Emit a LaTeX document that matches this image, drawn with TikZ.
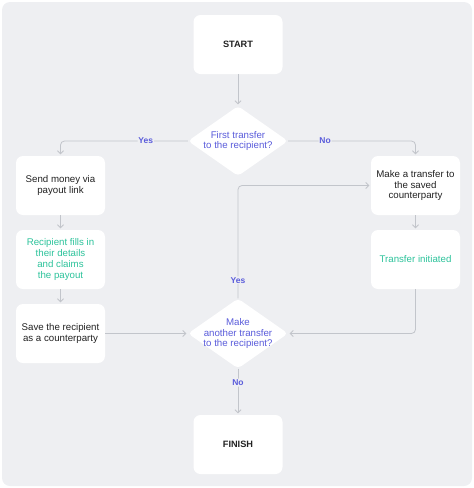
\documentclass[tikz,border=0pt]{standalone}
\usepackage{fontspec}
\setmainfont{Liberation Sans}
\usepackage{tikz}
\usetikzlibrary{arrows.meta, positioning, shapes.geometric}

\definecolor{panel}{HTML}{EEEFF2}
\definecolor{wire}{HTML}{C2C5CB}
\definecolor{ask}{HTML}{5A5CDB}
\definecolor{done}{HTML}{2CC39B}
\definecolor{ink}{HTML}{222222}

\begin{document}
\begin{tikzpicture}[x=1pt, y=-1pt,
    box/.style={fill=white, rounded corners=7pt, minimum width=89pt, minimum height=59pt,
        align=center, text=ink, font=\fontsize{9.7}{10.9}\selectfont, inner sep=2pt},
    ask/.style={diamond, fill=white, rounded corners=4pt, minimum width=100pt, minimum height=70pt,
        inner sep=0pt},
    asktext/.style={align=center, text=ask, font=\fontsize{9.7}{10.9}\selectfont},
    flow/.style={draw=wire, line width=0.8pt, rounded corners=4pt,
        -{Straight Barb[length=3pt, width=6pt]}, shorten >=1.5pt},
    tag/.style={fill=panel, text=ask, font=\fontsize{8.5}{9}\selectfont\bfseries, inner sep=1pt}]
    \useasboundingbox (0,0) rectangle (474,488);
    % grey panel behind everything
    \fill[panel] (2,2) [rounded corners=8pt] rectangle (472,486);

    % middle column
    \node[box, font=\fontsize{9.2}{10}\selectfont\bfseries] (start) at (238,44.5) {START};
    \node[ask, label={[asktext]center:First transfer\\to the recipient?}] (q1) at (238,141) {};
    \node[ask, label={[asktext]center:Make\\another transfer\\to the recipient?}] (q2) at (238,333.5) {};
    \node[box, font=\fontsize{9.2}{10}\selectfont\bfseries] (finish) at (238,444.5) {FINISH};

    % left column: new recipient
    \node[box] (send) at (60.5,185.5) {Send money via\\payout link};
    \node[box, text=done] (fills) at (60.5,259.5) {Recipient fills in\\their details\\and claims\\the payout};
    \node[box] (save) at (60.5,333.5) {Save the recipient\\as a counterparty};

    % right column: saved counterparty
    \node[box] (make) at (415.5,185.5) {Make a transfer to\\the saved\\counterparty};
    \node[box, text=done] (init) at (415.5,259.5) {Transfer initiated};

    % connectors
    \draw[flow] (start) -- (q1);
    \draw[flow] (q1.west) -| node[tag, pos=0.165] {Yes} (send.north);
    \draw[flow] (q1.east) -| node[tag, pos=0.145] {No} (make.north);
    \draw[flow] (send) -- (fills);
    \draw[flow] (fills) -- (save);
    \draw[flow] (make) -- (init);
    \draw[flow] (save) -- (q2.west);
    \draw[flow] (init.south) |- (q2.east);
    \draw[flow] (q2.north) |- node[tag, pos=0.08] {Yes} (make.west);
    \draw[flow] (q2.south) -- node[tag, pos=0.3] {No} (finish.north);
\end{tikzpicture}
\end{document}
